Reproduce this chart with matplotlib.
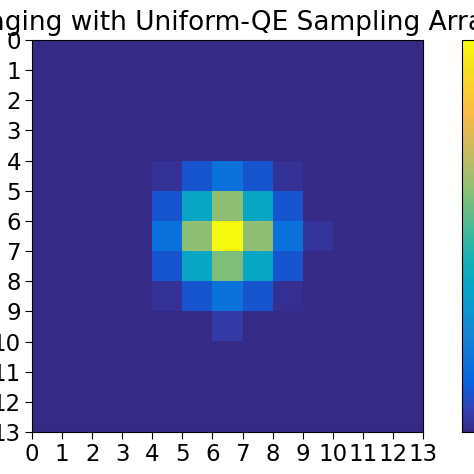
import numpy as np
import matplotlib
matplotlib.use("Agg")
import matplotlib.pyplot as plt
from matplotlib.colors import LinearSegmentedColormap

# parula-like colormap (old matlab default), every 4th entry
parula_pts = [
    (0.2081, 0.1663, 0.5292),
    (0.1959, 0.2645, 0.7279),
    (0.0117, 0.3875, 0.8820),
    (0.0498, 0.4586, 0.8641),
    (0.0793, 0.5200, 0.8312),
    (0.0343, 0.5966, 0.8199),
    (0.0228, 0.6535, 0.7768),
    (0.0843, 0.6928, 0.7062),
    (0.2178, 0.7250, 0.6193),
    (0.3953, 0.7459, 0.5244),
    (0.5709, 0.7485, 0.4494),
    (0.7184, 0.7411, 0.3905),
    (0.8507, 0.7299, 0.3360),
    (0.9739, 0.7314, 0.2666),
    (0.9880, 0.8066, 0.1794),
    (0.9589, 0.8949, 0.1132),
    (0.9763, 0.9831, 0.0538),
]
parula = LinearSegmentedColormap.from_list("parula", parula_pts)

n = 13
title = "Imaging with Uniform-QE Sampling Array"

# intensity values (row, col) -> value
rows = [4, 4, 4, 4, 4,
        5, 5, 5, 5, 5,
        6, 6, 6, 6, 6, 6,
        7, 7, 7, 7, 7,
        8, 8, 8, 8, 8,
        9]
cols = [4, 5, 6, 7, 8,
        4, 5, 6, 7, 8,
        4, 5, 6, 7, 8, 9,
        4, 5, 6, 7, 8,
        4, 5, 6, 7, 8,
        6]
vals = [0.02, 0.10, 0.18, 0.10, 0.02,
        0.10, 0.38, 0.62, 0.38, 0.10,
        0.18, 0.62, 1.00, 0.62, 0.18, 0.03,
        0.10, 0.38, 0.60, 0.38, 0.10,
        0.02, 0.10, 0.18, 0.10, 0.015,
        0.04]

img = np.zeros((n, n))
for r, c, v in zip(rows, cols, vals):
    img[r, c] = v

fig = plt.figure(figsize=(4.74, 4.74), dpi=100)
ax = fig.add_axes([32/474, 42/474, 391/474, 392/474])
im = ax.imshow(img, cmap=parula, extent=[0, n, n, 0], vmin=0, vmax=1,
               interpolation="nearest", aspect="auto")
ax.set_xticks(range(n + 1))
ax.set_yticks(range(n + 1))
ax.tick_params(labelsize=16.5, length=5, pad=3)
ax.set_title(title, fontsize=19, pad=7)

cax = fig.add_axes([462/474, 42/474, 0.06, 392/474])
fig.colorbar(im, cax=cax)

fig.savefig("out.png", dpi=100)
